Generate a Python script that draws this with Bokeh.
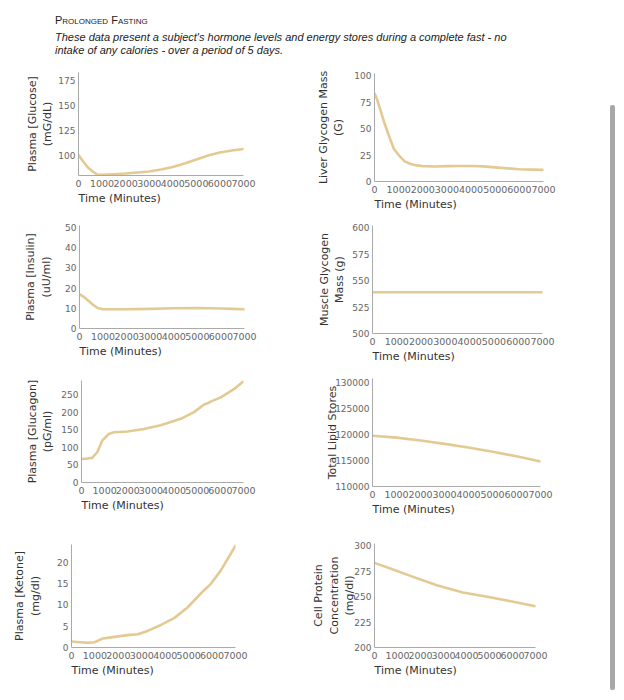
from bokeh.plotting import figure
from bokeh.layouts import column, row
from bokeh.models import Range1d, FixedTicker, BasicTickFormatter, Div, Spacer, Title
from bokeh.embed import file_html
from bokeh.resources import INLINE

# ---------------- data ----------------
x_ticks = [0, 1000, 2000, 3000, 4000, 5000, 6000, 7000]

glucose_t = [0, 200, 400, 600, 800, 1000, 1500, 2000, 2500, 3000, 3500, 4000, 4500, 5000, 5500, 6000, 6500, 7000]
glucose_v = [100.5, 94, 88, 84, 81, 80.8, 81.3, 82, 83, 84, 86, 88.5, 92, 96, 100, 103, 105, 106.5]
glucose_ticks = [100, 125, 150, 175]

liver_t = [0, 100, 250, 400, 600, 800, 1000, 1250, 1500, 1750, 2000, 2500, 3000, 3500, 4000, 4500, 5000, 5500, 6000, 6500, 7000]
liver_v = [83, 78, 67, 56, 43, 31, 25, 19, 16.5, 15.2, 14.5, 14.2, 14.5, 14.7, 14.7, 14.3, 13.3, 12.4, 11.6, 11.2, 11]
liver_ticks = [0, 25, 50, 75, 100]

insulin_t = [0, 200, 400, 600, 800, 1000, 1500, 2000, 3000, 4000, 5000, 5500, 6000, 6500, 7000]
insulin_v = [17, 15.5, 13.5, 11.5, 10, 9.5, 9.5, 9.5, 9.7, 10, 10.1, 10, 9.9, 9.7, 9.5]
insulin_ticks = [0, 10, 20, 30, 40, 50]

muscle_t = [0, 7000]
muscle_v = [539, 539]
muscle_ticks = [500, 525, 550, 575, 600]

glucagon_t = [0, 250, 460, 680, 895, 1180, 1400, 1980, 2700, 3420, 4290, 4860, 5300, 5450, 5580, 6020, 6600, 7000]
glucagon_v = [67, 68, 70, 86, 119, 138, 143, 145, 152, 163, 181, 200, 222, 225, 230, 242, 266, 288]
glucagon_ticks = [0, 50, 100, 150, 200, 250]

lipid_t = [0, 1000, 2000, 3000, 4000, 5000, 6000, 7000]
lipid_v = [119750, 119400, 118850, 118200, 117500, 116700, 115800, 114800]
lipid_ticks = [110000, 115000, 120000, 125000, 130000]

ketone_t = [0, 350, 700, 990, 1340, 1840, 2400, 2830, 3250, 3820, 4380, 4950, 5370, 5590, 5940, 6360, 7000]
ketone_v = [1.4, 1.25, 1.1, 1.25, 2.1, 2.5, 2.9, 3.1, 3.9, 5.3, 6.9, 9.4, 11.8, 13.1, 14.9, 18.0, 23.9]
ketone_ticks = [0, 5, 10, 15, 20]

protein_t = [0, 745, 1590, 2710, 3840, 4960, 6090, 7000]
protein_v = [283, 277, 270, 261, 254, 249.5, 244.6, 240.4]
protein_ticks = [200, 225, 250, 275, 300]

# ---------------- style ----------------
LINE = "#e3ca93"
AXIS = "#aaaaaa"
TICK_COL = "#666666"
LABEL_COL = "#333333"
FONT = "DejaVu Sans"
B0 = 60  # common left border of every figure


def panel(t, v, ylab, yr, yticks, col_w, frame_left, frame_w, top, frame_h, bottom, ystand):
    # frame_left: offset of the frame from the column's left edge
    shift = frame_left - B0
    width = col_w - shift
    height = top + frame_h + bottom
    p = figure(width=width, height=height, x_range=Range1d(0, 7000), y_range=Range1d(*yr),
               output_backend="svg", toolbar_location=None,
               min_border_left=B0, min_border_right=width - B0 - frame_w,
               min_border_top=top, min_border_bottom=bottom)
    p.line(t, v, line_color=LINE, line_width=2.6, line_join="round", line_cap="round")
    p.grid.visible = False
    p.outline_line_color = None
    p.background_fill_color = "white"
    p.border_fill_color = "white"
    p.xaxis.ticker = FixedTicker(ticks=x_ticks)
    p.yaxis.ticker = FixedTicker(ticks=yticks)
    for ax in (p.xaxis[0], p.yaxis[0]):
        ax.formatter = BasicTickFormatter(use_scientific=False)
        ax.axis_line_color = AXIS
        ax.axis_line_width = 1
        ax.major_tick_line_color = None
        ax.minor_tick_line_color = None
        ax.major_tick_out = 0
        ax.major_tick_in = 0
        ax.minor_tick_out = 0
        ax.minor_tick_in = 0
        ax.major_label_text_font = FONT
        ax.major_label_text_font_size = "9px"
        ax.major_label_text_color = TICK_COL
        ax.axis_label_text_font = FONT
        ax.axis_label_text_font_size = "11px"
        ax.axis_label_text_font_style = "normal"
        ax.axis_label_text_color = LABEL_COL
        ax.axis_label_text_line_height = 1.2
    p.xaxis.major_label_text_font_size = "9.5px"
    p.xaxis.major_label_standoff = 4
    p.add_layout(Title(text="Time (Minutes)", align="left", standoff=1,
                       text_font=FONT, text_font_size="11px", text_font_style="normal",
                       text_color=LABEL_COL), "below")
    p.yaxis.axis_label = ylab
    p.yaxis.major_label_standoff = 3
    p.yaxis.axis_label_standoff = ystand
    return row(Spacer(width=shift, height=height), p)


# left column
LW = 292
f1 = panel(glucose_t, glucose_v, "Plasma [Glucose]\n(mG/dL)", (80, 183), glucose_ticks,
           LW, 70, 165, 12, 103, 40, 1)
f3 = panel(insulin_t, insulin_v, "Plasma [Insulin]\n(uU/ml)", (0, 51), insulin_ticks,
           LW, 71, 165, 10, 103, 42, 9)
f5 = panel(glucagon_t, glucagon_v, "Plasma [Glucagon]\n(pG/ml)", (0, 290), glucagon_ticks,
           LW, 73, 162, 10, 102, 48, 4)
f7 = panel(ketone_t, ketone_v, "Plasma [Ketone]\n(mg/dl)", (0, 24.2), ketone_ticks,
           LW, 62, 165, 14, 103, 41, 12)

# right column
RW = 310
f2 = panel(liver_t, liver_v, "Liver Glycogen Mass\n(G)", (0, 102), liver_ticks,
           RW, 73, 170, 13, 108, 37, 6)
f4 = panel(muscle_t, muscle_v, "Muscle Glycogen\nMass (g)", (500, 602), muscle_ticks,
           RW, 72, 170, 7, 108, 39, 3)
f6 = panel(lipid_t, lipid_v, "Total Lipid Stores", (110000, 130770), lipid_ticks,
           RW, 72, 168, 6, 108, 46, -7)
f8 = panel(protein_t, protein_v, "Cell Protein\nConcentration\n(mg/dl)", (200, 302), protein_ticks,
           RW, 69, 166, 11, 104, 41, -5)

title = Div(
    text=(
        '<div style="padding-left:47px; padding-top:6px; font-family:\'Liberation Sans\', Arial, sans-serif; color:#222;">'
        '<div style="font-variant:small-caps; font-size:11px; line-height:13px;">Prolonged Fasting</div>'
        '<div style="font-style:italic; font-size:11px; line-height:13px; margin-top:4px;">'
        'These data present a subject\'s hormone levels and energy stores during a complete fast - no<br>'
        'intake of any calories - over a period of 5 days.</div></div>'
    ),
    width=600, height=52, margin=(0, 0, 0, 0),
)

bar = Div(text="", width=5, height=585, margin=(0, 0, 0, 0),
          styles={"background-color": "#a8a8a8", "border-radius": "2px"})

inner = column(
    title,
    row(column(f1, f3, f5, f7), column(f2, f4, f6, f8), column(Spacer(width=5, height=45), bar)),
)
layout = column(Spacer(width=10, height=8), row(Spacer(width=8, height=10), inner))

open("out.html", "w").write(file_html(layout, INLINE))
